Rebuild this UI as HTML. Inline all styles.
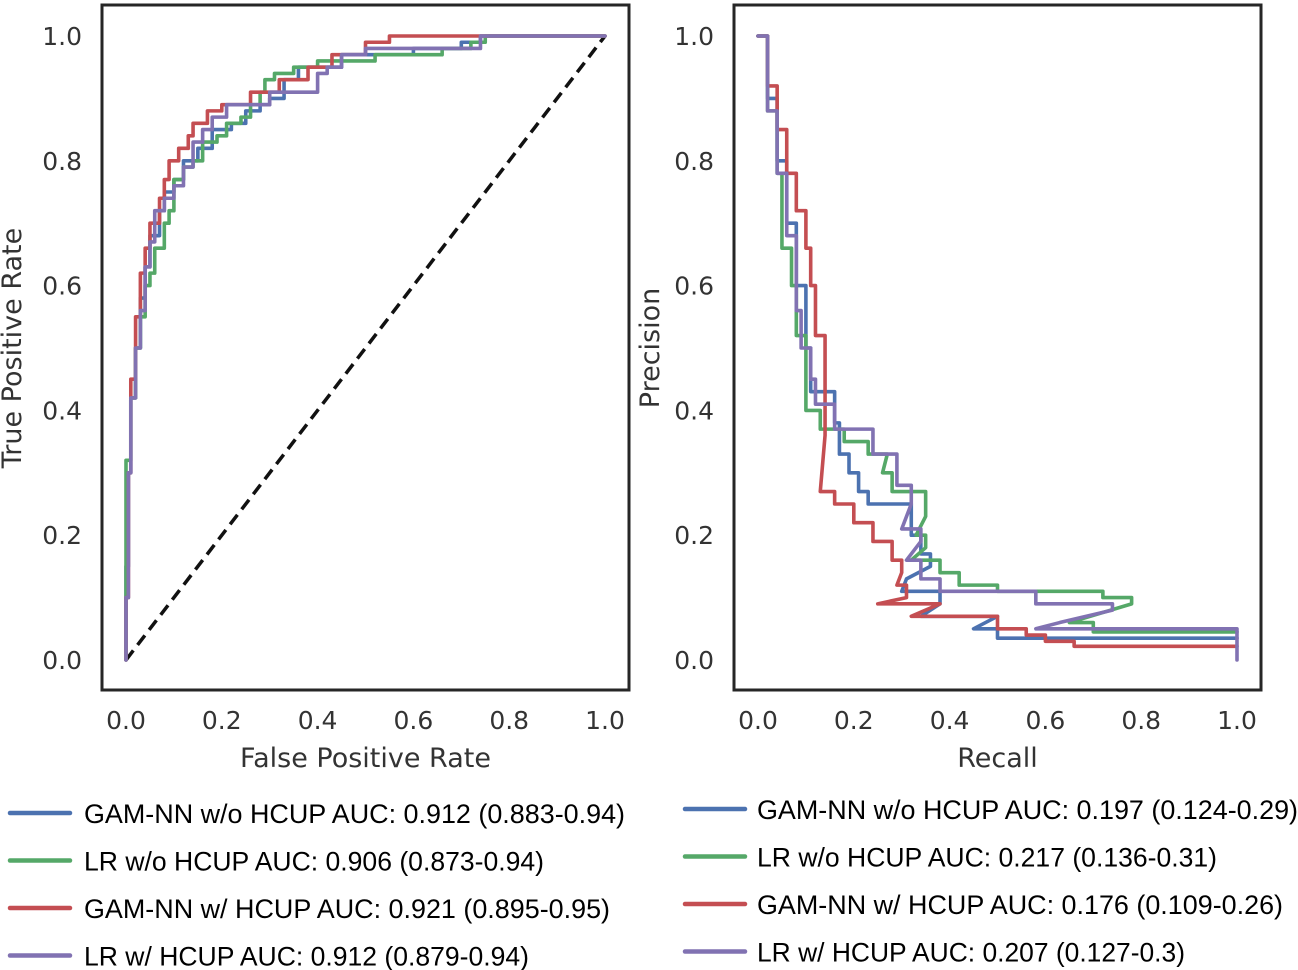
<!DOCTYPE html>
<html><head><meta charset="utf-8"><style>
html,body{margin:0;padding:0;background:#fff;}
svg{display:block;font-family:"DejaVu Sans","Liberation Sans",sans-serif;}
</style></head><body>
<svg id="fig" width="1298" height="970" viewBox="0 0 1298 970">
<g id="roc"></g>
<g id="pr"></g>
<g id="legends"></g>
</svg>
<script>
const ticks = [0, 0.2, 0.4, 0.6, 0.8, 1.0];
const tickLabels = ["0.0","0.2","0.4","0.6","0.8","1.0"];
const seriesNames = ["GAM-NN w/o HCUP","LR w/o HCUP","GAM-NN w/ HCUP","LR w/ HCUP"];
const colors = ["#4c72b0","#55a868","#c44e52","#8172b2"];
const rocLegend = ["GAM-NN w/o HCUP AUC: 0.912 (0.883-0.94)","LR w/o HCUP AUC: 0.906 (0.873-0.94)","GAM-NN w/ HCUP AUC: 0.921 (0.895-0.95)","LR w/ HCUP AUC: 0.912 (0.879-0.94)"];
const prLegend = ["GAM-NN w/o HCUP AUC: 0.197 (0.124-0.29)","LR w/o HCUP AUC: 0.217 (0.136-0.31)","GAM-NN w/ HCUP AUC: 0.176 (0.109-0.26)","LR w/ HCUP AUC: 0.207 (0.127-0.3)"];

const rocBlue = [[0,0],[0,0.15],[0.005,0.3],[0.01,0.42],[0.02,0.5],[0.03,0.58],[0.04,0.63],[0.05,0.68],[0.07,0.72],[0.08,0.75],[0.1,0.77],[0.12,0.8],[0.15,0.82],[0.18,0.85],[0.22,0.86],[0.25,0.88],[0.28,0.89],[0.3,0.9],[0.33,0.93],[0.36,0.95],[0.45,0.97],[0.6,0.98],[0.7,0.99],[0.74,1.0],[1,1]];
const rocGreen = [[0,0],[0,0.32],[0.01,0.42],[0.02,0.5],[0.03,0.55],[0.04,0.6],[0.05,0.62],[0.06,0.66],[0.08,0.7],[0.09,0.72],[0.1,0.77],[0.12,0.79],[0.14,0.8],[0.16,0.83],[0.19,0.84],[0.21,0.86],[0.24,0.87],[0.26,0.89],[0.28,0.91],[0.29,0.93],[0.31,0.94],[0.35,0.95],[0.4,0.96],[0.52,0.97],[0.66,0.98],[0.72,0.99],[0.75,1.0],[1,1]];
const rocRed = [[0,0],[0,0.1],[0.005,0.3],[0.01,0.45],[0.02,0.55],[0.03,0.62],[0.04,0.66],[0.05,0.7],[0.07,0.74],[0.08,0.77],[0.09,0.8],[0.11,0.82],[0.13,0.84],[0.14,0.86],[0.17,0.88],[0.2,0.89],[0.24,0.89],[0.26,0.91],[0.3,0.91],[0.32,0.93],[0.38,0.95],[0.43,0.97],[0.5,0.99],[0.55,1.0],[1,1]];
const rocPurple = [[0,0],[0,0.1],[0.005,0.3],[0.01,0.42],[0.02,0.5],[0.03,0.56],[0.04,0.63],[0.05,0.67],[0.06,0.72],[0.08,0.74],[0.1,0.76],[0.12,0.79],[0.14,0.83],[0.16,0.85],[0.18,0.87],[0.21,0.89],[0.26,0.89],[0.3,0.91],[0.38,0.91],[0.4,0.94],[0.42,0.95],[0.45,0.97],[0.5,0.98],[0.7,0.98],[0.74,1.0],[1,1]];

const prBlue = [[0,1],[0.02,0.9],[0.04,0.8],[0.06,0.7],[0.08,0.6],[0.1,0.5],[0.11,0.43],[0.15,0.43],[0.16,0.38],[0.17,0.33],[0.19,0.3],[0.21,0.27],[0.23,0.25],[0.31,0.25],[0.32,0.2],[0.34,0.17],[0.36,0.15],[0.31,0.13],[0.3,0.11],[0.38,0.09],[0.34,0.07],[0.5,0.07],[0.45,0.05],[0.5,0.035],[1,0.035]];
const prGreen = [[0,1],[0.02,0.88],[0.04,0.78],[0.05,0.66],[0.07,0.6],[0.08,0.52],[0.1,0.47],[0.1,0.4],[0.13,0.37],[0.18,0.35],[0.23,0.33],[0.27,0.33],[0.26,0.3],[0.28,0.27],[0.35,0.23],[0.33,0.2],[0.35,0.18],[0.32,0.16],[0.38,0.14],[0.42,0.12],[0.5,0.11],[0.72,0.1],[0.78,0.09],[0.65,0.06],[0.7,0.045],[1,0.045]];
const prRed = [[0,1],[0.02,0.92],[0.04,0.85],[0.06,0.78],[0.08,0.72],[0.1,0.66],[0.11,0.6],[0.12,0.52],[0.14,0.45],[0.14,0.36],[0.13,0.27],[0.16,0.25],[0.2,0.22],[0.24,0.19],[0.28,0.16],[0.3,0.14],[0.29,0.12],[0.31,0.1],[0.25,0.09],[0.38,0.09],[0.32,0.07],[0.45,0.07],[0.5,0.05],[0.56,0.04],[0.6,0.03],[0.66,0.022],[1,0.022]];
const prPurple = [[0,1],[0.02,0.88],[0.04,0.78],[0.06,0.68],[0.08,0.56],[0.09,0.5],[0.11,0.45],[0.12,0.41],[0.16,0.37],[0.22,0.37],[0.24,0.33],[0.28,0.33],[0.29,0.28],[0.32,0.25],[0.3,0.21],[0.34,0.19],[0.31,0.16],[0.34,0.13],[0.38,0.11],[0.55,0.11],[0.58,0.09],[0.74,0.08],[0.63,0.06],[0.58,0.05],[1,0.05],[1,0.0]];

const rocSeries = [rocBlue, rocGreen, rocRed, rocPurple];
const prSeries = [prBlue, prGreen, prRed, prPurple];

const NS = "http://www.w3.org/2000/svg";
function mk(tag, attrs, parent){ const e=document.createElementNS(NS,tag); for(const k in attrs) e.setAttribute(k,attrs[k]); parent.appendChild(e); return e; }

function drawPanel(g, box, x0, series, xTitle, yTitle, diag, name, yTitleX){
  const xs = v => x0 + v*479;
  const ys = v => 660 - v*624;
  const frame = mk('rect',{x:box[0],y:box[1],width:box[2],height:box[3],fill:'none',stroke:'#262626','stroke-width':3},g);
  
  
  ticks.forEach((t,i)=>{
    const tx = mk('text',{x:xs(t),y:729,'text-anchor':'middle','font-size':25,fill:'#333'},g);
    tx.textContent = tickLabels[i];
    
    
    const ty = mk('text',{x:box[0]-20,y:ys(t)+9,'text-anchor':'end','font-size':25,fill:'#333'},g);
    ty.textContent = tickLabels[i];
    
    
  });
  const xt = mk('text',{x:box[0]+box[2]/2,y:767,'text-anchor':'middle','font-size':27,fill:'#333'},g);
  xt.textContent = xTitle;
  
  
  const yt = mk('text',{x:0,y:0,'text-anchor':'middle','font-size':27,fill:'#333',transform:`translate(${yTitleX},348) rotate(-90)`},g);
  yt.textContent = yTitle;
  
  
  if(diag){
    const d = mk('line',{x1:xs(0),y1:ys(0),x2:xs(1),y2:ys(1),stroke:'#111','stroke-width':3.5,'stroke-dasharray':'12,7'},g);
    
    
  }
  series.forEach((s,i)=>{
    let dstr='';
    s.forEach((p,j)=>{
      if(j===0){ dstr+=`M${xs(p[0])},${ys(p[1])}`; }
      else {
        const prev=s[j-1];
        if(p[0] < prev[0]) dstr+=`L${xs(p[0])},${ys(p[1])}`;
        else dstr+=`L${xs(p[0])},${ys(prev[1])}L${xs(p[0])},${ys(p[1])}`;
      }
    });
    const path = mk('path',{d:dstr,fill:'none',stroke:colors[i],'stroke-width':3.6,'stroke-linejoin':'round','stroke-linecap':'round'},g);
    
    
  });
}
drawPanel(document.getElementById('roc'), [102,5,527,685], 126, rocSeries, 'False Positive Rate', 'True Positive Rate', true, 'roc', 21);
drawPanel(document.getElementById('pr'), [734,5,527,685], 758, prSeries, 'Recall', 'Precision', false, 'pr', 659);

function drawLegend(g, lx, tx, y0, labels, widths){
  labels.forEach((lab,i)=>{
    const y = y0 + i*47.5;
    const l = mk('line',{x1:lx,y1:y,x2:lx+60,y2:y,stroke:colors[i],'stroke-width':4.5,'stroke-linecap':'round'},g);
    
    
    const t = mk('text',{x:tx,y:y+10,'font-size':27,fill:'#000',textLength:widths[i],lengthAdjust:'spacingAndGlyphs','font-family':'Liberation Sans, sans-serif'},g);
    t.textContent = lab;
    
    
  });
}
drawLegend(document.getElementById('legends'), 10, 84, 813, rocLegend, [541,460,526,445]);
drawLegend(document.getElementById('legends'), 685, 757, 809, prLegend, [541,460,526,428]);
</script>
</body></html>
